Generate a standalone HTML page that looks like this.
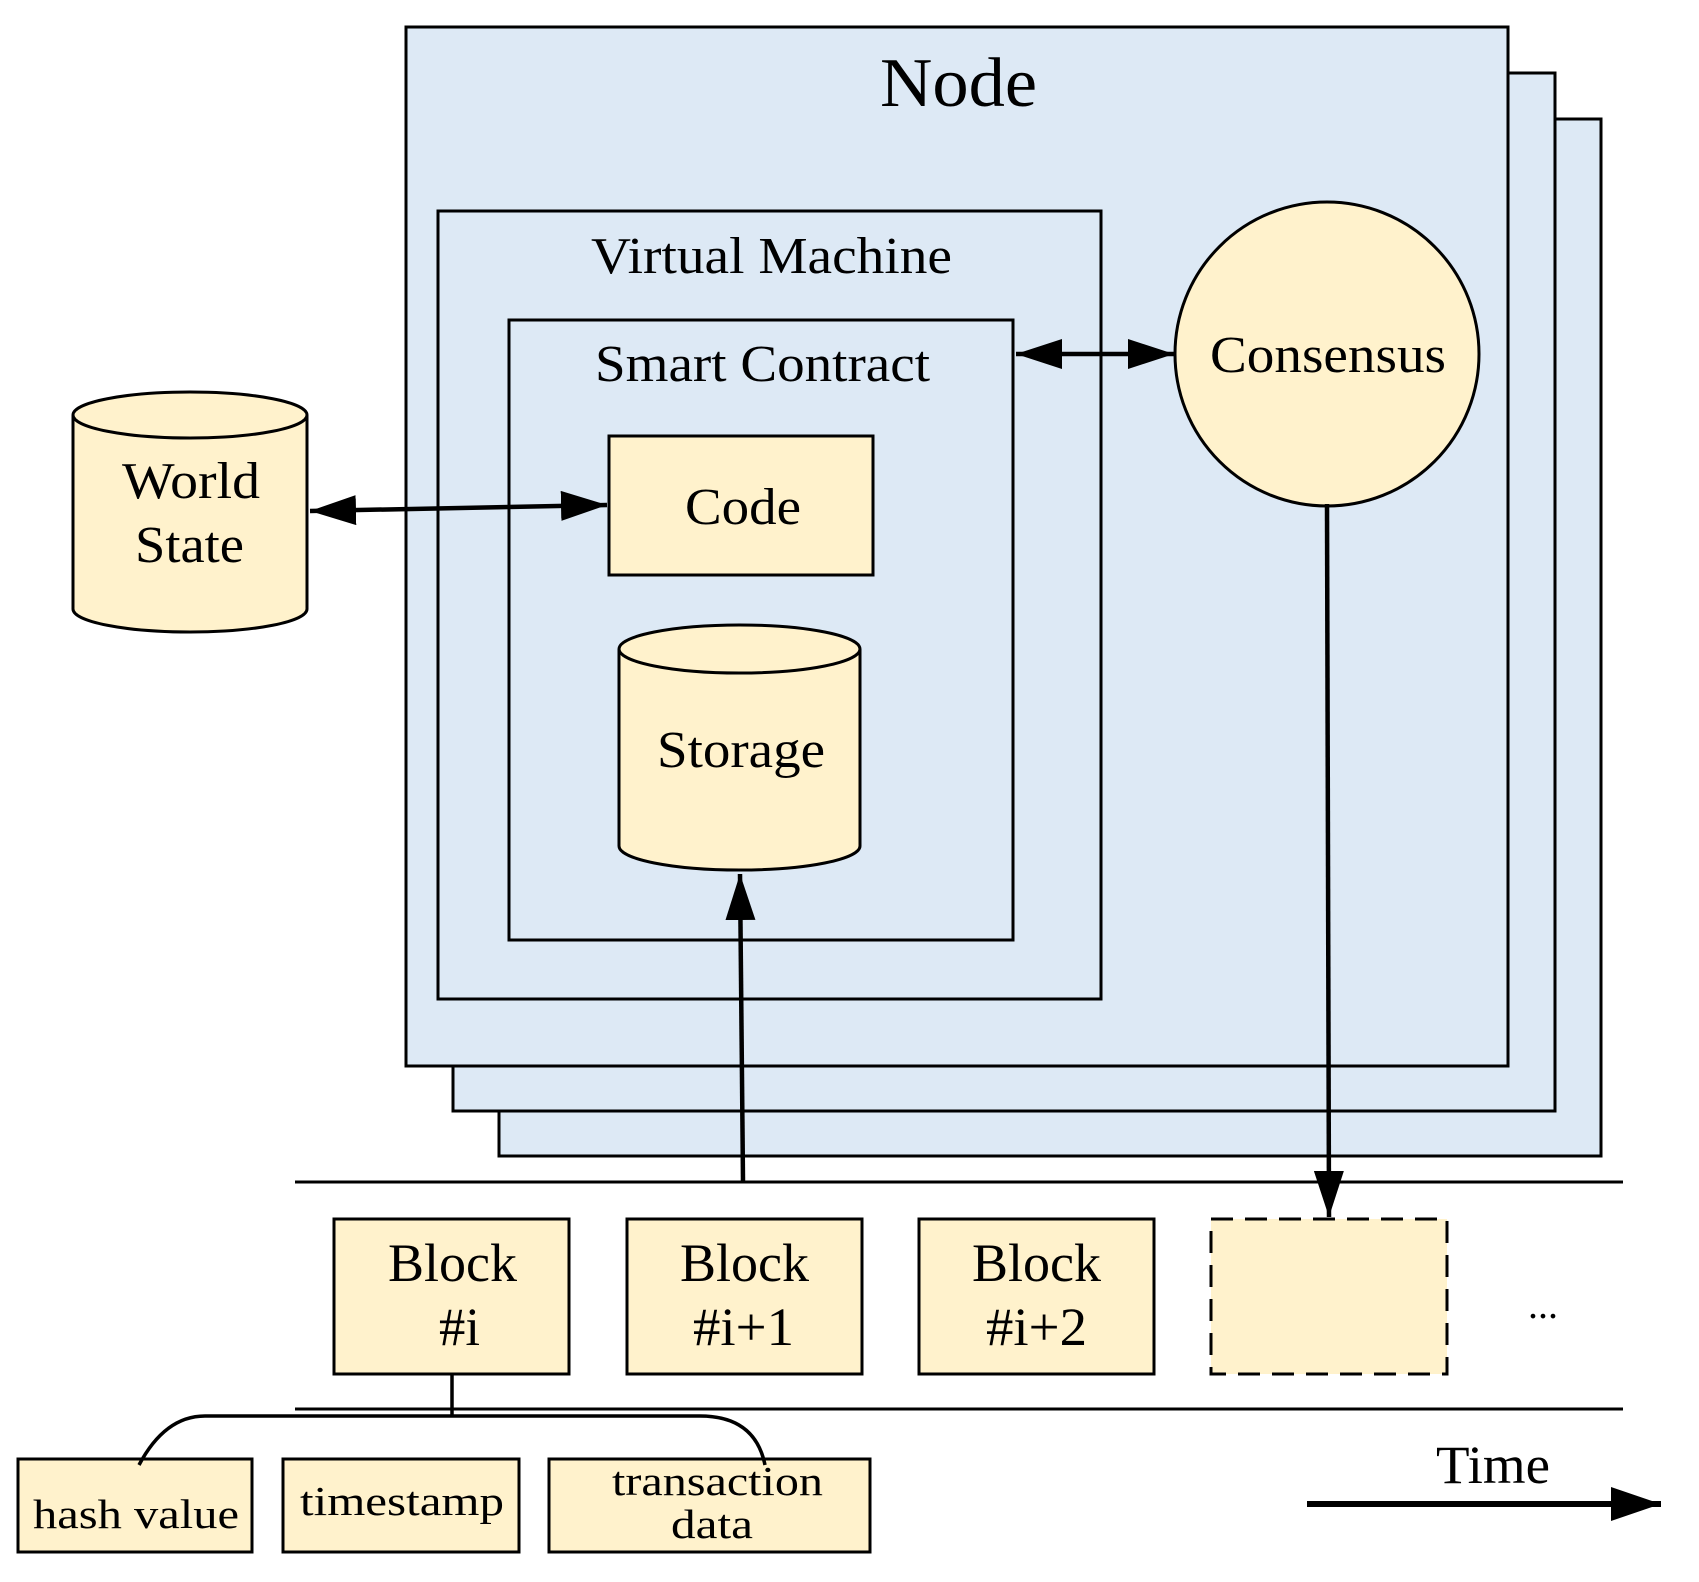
<!DOCTYPE html>
<html><head><meta charset="utf-8"><style>html,body{margin:0;padding:0;background:#fff}svg{display:block}</style></head>
<body>
<svg width="1699" height="1582" viewBox="0 0 1699 1582" xmlns="http://www.w3.org/2000/svg" font-family="'Liberation Serif', serif">
<defs>
<marker id="ah" viewBox="0 0 46 30" refX="46" refY="15" markerWidth="46" markerHeight="30" orient="auto-start-reverse" markerUnits="userSpaceOnUse"><path d="M0,0 L46,15 L0,30 z" fill="#000"/></marker>
<marker id="ah2" viewBox="0 0 50 34" refX="50" refY="17" markerWidth="50" markerHeight="34" orient="auto" markerUnits="userSpaceOnUse"><path d="M0,0 L50,17 L0,34 z" fill="#000"/></marker>
</defs>
<g stroke="#000" stroke-width="3" fill="#dde9f5">
<rect x="499" y="119" width="1102" height="1037"/>
<rect x="453" y="73" width="1102" height="1038"/>
<rect x="406" y="27" width="1102" height="1039"/>
<rect x="438" y="211" width="663" height="788"/>
<rect x="509" y="320" width="504" height="620"/>
</g>
<g stroke="#000" stroke-width="3" fill="#fff2cc">
<rect x="609" y="436" width="264" height="139"/>
<path d="M619,649 L619,846 A120.5,24 0 0 0 860,846 L860,649 A120.5,24 0 0 0 619,649 A120.5,24 0 0 0 860,649"/>
<path d="M73,415 L73,609 A117,23 0 0 0 307,609 L307,415 A117,23 0 0 0 73,415 A117,23 0 0 0 307,415"/>
<circle cx="1327" cy="354" r="152"/>
<rect x="334" y="1219" width="235" height="155"/>
<rect x="627" y="1219" width="235" height="155"/>
<rect x="919" y="1219" width="235" height="155"/>
<rect x="1211" y="1219" width="236" height="155" stroke-dasharray="22,12"/>
<rect x="18" y="1459" width="234" height="93"/>
<rect x="283" y="1459" width="236" height="93"/>
<rect x="549" y="1459" width="321" height="93"/>
</g>
<g stroke="#000" stroke-width="4.5" fill="none">
<line x1="295" y1="1182" x2="1623" y2="1182" stroke-width="3"/>
<line x1="295" y1="1409" x2="1623" y2="1409" stroke-width="3"/>
<line x1="1016" y1="354" x2="1174" y2="354" marker-start="url(#ah)" marker-end="url(#ah)"/>
<line x1="310" y1="511" x2="607" y2="505" marker-start="url(#ah)" marker-end="url(#ah)"/>
<line x1="743" y1="1181" x2="740" y2="874" marker-end="url(#ah)"/>
<line x1="1327" y1="504" x2="1329" y2="1217" marker-end="url(#ah)"/>
<line x1="1307" y1="1504" x2="1661" y2="1504" stroke-width="6" marker-end="url(#ah2)"/>
<path d="M452,1374 L452,1416 M139,1465 Q165,1416 205,1416 L700,1416 Q755,1416 765,1465" stroke-width="3.5"/>
</g>
<g fill="#000" lengthAdjust="spacingAndGlyphs">
<text x="880" y="106" font-size="70" textLength="157" lengthAdjust="spacingAndGlyphs">Node</text>
<text x="591" y="273" font-size="52" textLength="361" lengthAdjust="spacingAndGlyphs">Virtual Machine</text>
<text x="595" y="381" font-size="52" textLength="335" lengthAdjust="spacingAndGlyphs">Smart Contract</text>
<text x="685" y="524" font-size="52" textLength="116" lengthAdjust="spacingAndGlyphs">Code</text>
<text x="657" y="767" font-size="52" textLength="168" lengthAdjust="spacingAndGlyphs">Storage</text>
<text x="122" y="498" font-size="52" textLength="138" lengthAdjust="spacingAndGlyphs">World</text>
<text x="135" y="562" font-size="52" textLength="109" lengthAdjust="spacingAndGlyphs">State</text>
<text x="1210" y="372" font-size="52" textLength="236" lengthAdjust="spacingAndGlyphs">Consensus</text>
<text x="388" y="1281" font-size="54" textLength="129" lengthAdjust="spacingAndGlyphs">Block</text>
<text x="439" y="1345" font-size="54" textLength="41" lengthAdjust="spacingAndGlyphs">#i</text>
<text x="680" y="1281" font-size="54" textLength="129" lengthAdjust="spacingAndGlyphs">Block</text>
<text x="693" y="1345" font-size="54" textLength="101" lengthAdjust="spacingAndGlyphs">#i+1</text>
<text x="972" y="1281" font-size="54" textLength="129" lengthAdjust="spacingAndGlyphs">Block</text>
<text x="986" y="1345" font-size="54" textLength="101" lengthAdjust="spacingAndGlyphs">#i+2</text>
<text x="1528" y="1318" font-size="40">...</text>
<text x="1436" y="1483" font-size="54" textLength="114" lengthAdjust="spacingAndGlyphs">Time</text>
<text x="33" y="1528" font-size="41" textLength="206" lengthAdjust="spacingAndGlyphs">hash value</text>
<text x="300" y="1515" font-size="41" textLength="204" lengthAdjust="spacingAndGlyphs">timestamp</text>
<text x="612" y="1495" font-size="41" textLength="211" lengthAdjust="spacingAndGlyphs">transaction</text>
<text x="671" y="1538" font-size="41" textLength="82" lengthAdjust="spacingAndGlyphs">data</text>
</g>
</svg>
</body></html>
